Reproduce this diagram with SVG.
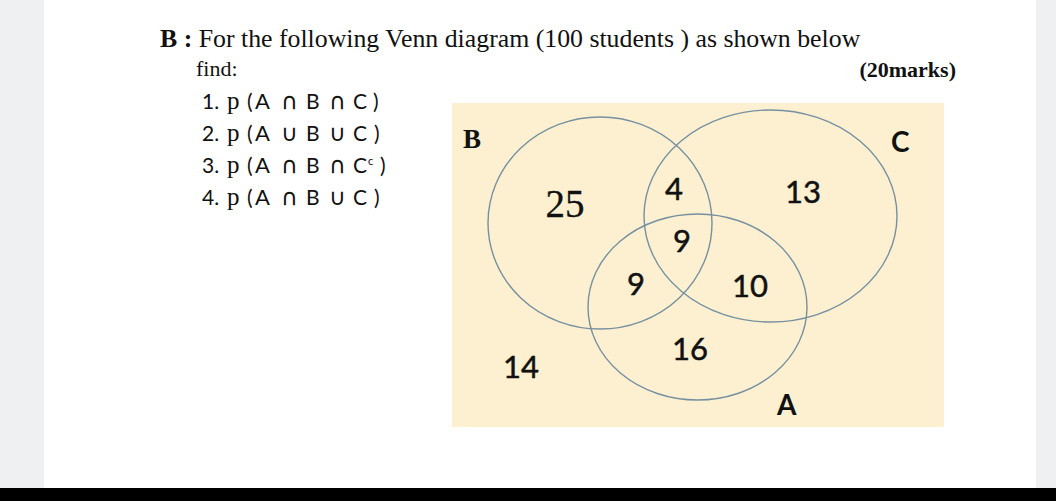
<svg xmlns="http://www.w3.org/2000/svg" width="1056" height="501" viewBox="0 0 1056 501">
  <style>
    .serif { font-family: "Liberation Serif", "Times New Roman", serif; fill: #111; }
    .sans { font-family: Lato, "Open Sans", "Liberation Sans", sans-serif; fill: #111; }
    .p { font-family: "Liberation Serif", "Times New Roman", serif; font-size: 25px; }
    .op { font-family: "DejaVu Sans", sans-serif; font-size: 23px; }
    .num { font-family: Lato, "Open Sans", "Liberation Sans", sans-serif; font-size: 31px; fill: #111; stroke: #111; stroke-width: 0.5; text-anchor: middle; }
    .set { fill: none; stroke: #7690a0; stroke-width: 1.4; }
  </style>
  <rect x="0" y="0" width="1056" height="501" fill="#eef0f2"/>
  <rect x="44" y="0" width="992" height="488" fill="#ffffff"/>
  <rect x="0" y="488" width="1056" height="13" fill="#000000"/>

  <g id="question">
    <text class="serif" x="160" y="47" font-size="25.8"><tspan font-weight="bold">B :</tspan> For the following Venn diagram (100 students ) as shown below</text>
    <text class="serif" x="196" y="76" font-size="22">find:</text>
    <text class="serif" x="956" y="77" font-size="22" font-weight="bold" text-anchor="end">(20marks)</text>
  </g>

  <g id="items" class="sans" font-size="21">
    <text y="109"><tspan x="202">1.</tspan><tspan class="p" x="227">p</tspan><tspan x="247">(</tspan><tspan x="255" font-size="22">A</tspan><tspan class="op" x="281">∩</tspan><tspan x="306">B</tspan><tspan class="op" x="329">∩</tspan><tspan x="353">C</tspan><tspan x="373">)</tspan></text>
    <text y="141"><tspan x="202">2.</tspan><tspan class="p" x="227">p</tspan><tspan x="247">(</tspan><tspan x="255" font-size="22">A</tspan><tspan class="op" x="281">∪</tspan><tspan x="306">B</tspan><tspan class="op" x="329">∪</tspan><tspan x="353">C</tspan><tspan x="374">)</tspan></text>
    <text y="173"><tspan x="202">3.</tspan><tspan class="p" x="227">p</tspan><tspan x="247">(</tspan><tspan x="255" font-size="22">A</tspan><tspan class="op" x="281">∩</tspan><tspan x="306">B</tspan><tspan class="op" x="329">∩</tspan><tspan x="353">C</tspan><tspan x="368" dy="-8" font-size="11">c</tspan><tspan x="380" dy="8">)</tspan></text>
    <text y="205"><tspan x="202">4.</tspan><tspan class="p" x="227">p</tspan><tspan x="247">(</tspan><tspan x="255" font-size="22">A</tspan><tspan class="op" x="281">∩</tspan><tspan x="306">B</tspan><tspan class="op" x="329">∪</tspan><tspan x="353">C</tspan><tspan x="374">)</tspan></text>
  </g>

  <g id="venn">
    <rect id="universe" x="452" y="103" width="492" height="324" fill="#fcf0d0"/>
    <g id="connectors">
      <ellipse id="setB" class="set" cx="600" cy="223" rx="112" ry="106"/>
      <ellipse id="setC" class="set" cx="770.5" cy="216" rx="126.5" ry="106"/>
      <ellipse id="setA" class="set" cx="697.5" cy="307" rx="109.5" ry="93"/>
    </g>
    <g id="labelB"><text class="serif" x="463" y="148" font-size="27" font-weight="bold">B</text></g>
    <g id="labelC"><text class="sans" x="891" y="152" font-size="28" font-weight="bold">C</text></g>
    <g id="labelA"><text class="sans" x="777" y="415" font-size="28" font-weight="bold">A</text></g>
    <g id="n25"><text class="serif" x="565" y="217" font-size="39" text-anchor="middle" stroke="#111" stroke-width="0.3">25</text></g>
    <g id="n4"><text class="num" x="674" y="200">4</text></g>
    <g id="n13"><text class="num" x="803" y="203">13</text></g>
    <g id="n9c"><text class="num" x="682" y="252">9</text></g>
    <g id="n9l"><text class="num" x="636" y="295">9</text></g>
    <g id="n10"><text class="num" x="750" y="297">10</text></g>
    <g id="n16"><text class="num" x="690" y="360">16</text></g>
    <g id="n14"><text class="num" x="521" y="378">14</text></g>
  </g>
</svg>
